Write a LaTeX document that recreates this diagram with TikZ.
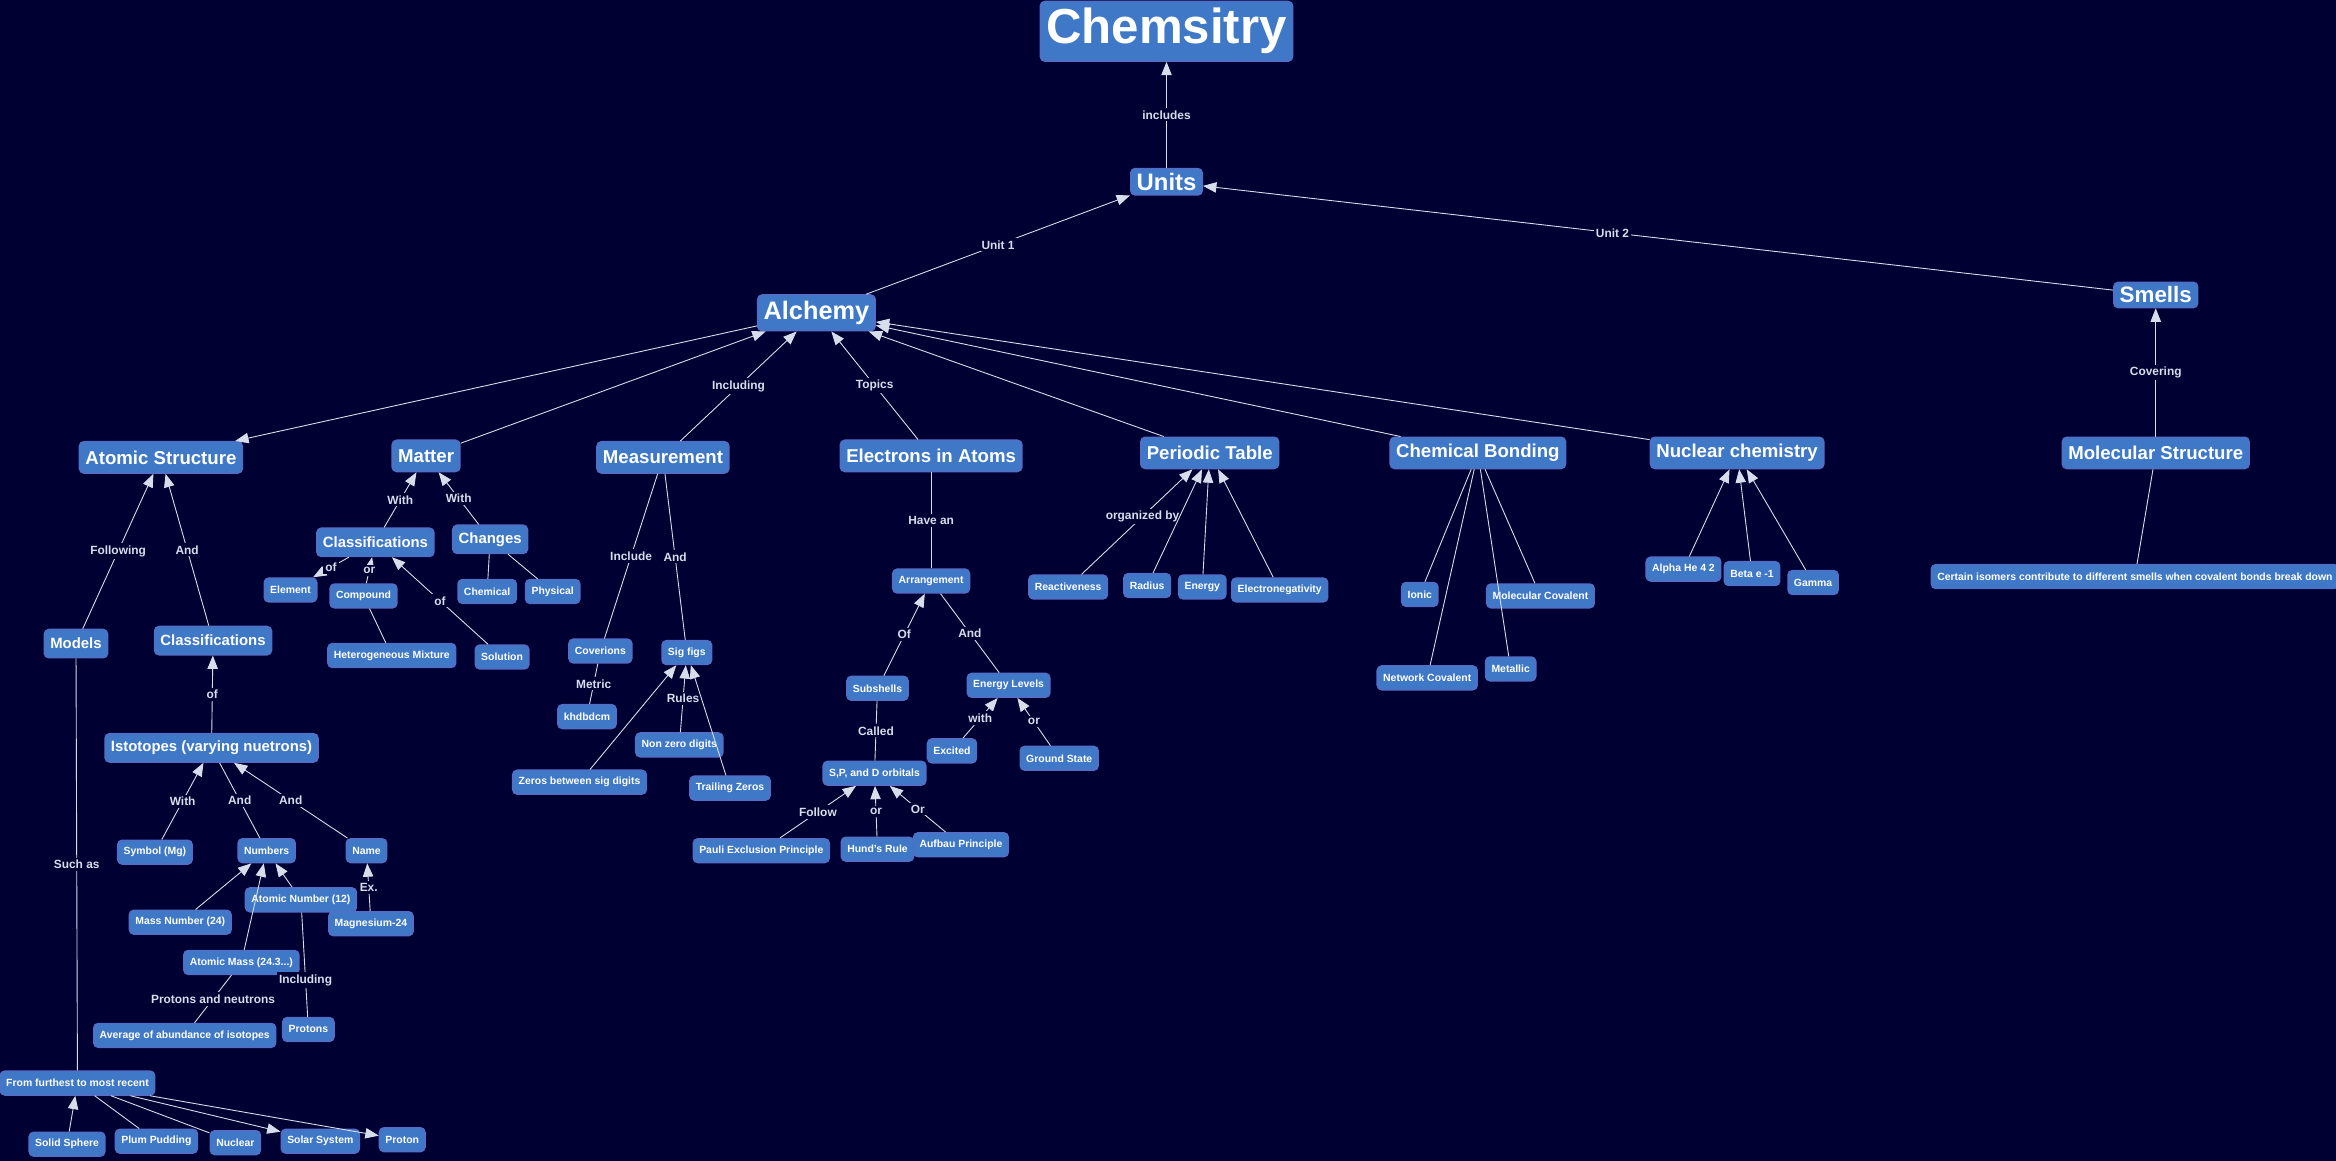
\documentclass[tikz,border=0pt]{standalone}
\usepackage{fontspec}
\setmainfont{Liberation Sans}
\usetikzlibrary{arrows.meta}
\definecolor{bg}{RGB}{0,0,51}
\definecolor{box}{RGB}{62,120,198}
\definecolor{edge}{RGB}{84,110,200}
\definecolor{ln}{RGB}{215,222,235}
\begin{document}
\begin{tikzpicture}[x=1pt,y=-1pt,
 base/.style={draw=edge,line width=1pt,fill=box,rounded corners=3pt,text=white,font=\bfseries,inner xsep=4pt,inner ysep=3pt},
 s/.style={base,font=\bfseries\fontsize{7}{8}\selectfont,minimum height=16pt},
 m/.style={base,font=\bfseries\fontsize{10}{11}\selectfont,minimum height=19pt},
 L/.style={base,font=\bfseries\fontsize{12.5}{14}\selectfont,minimum height=21pt},
 B/.style={base,font=\bfseries\fontsize{17}{19}\selectfont,minimum height=24pt},
 lbl/.style={fill=bg,text=ln,font=\bfseries\fontsize{8}{9}\selectfont,inner sep=1.5pt},
 a/.style={draw=ln,line width=0.6pt,-{Triangle[width=7pt,length=9pt,fill=ln]}},
 l/.style={draw=ln,line width=0.6pt}]
\fill[bg] (0,0) rectangle (1568,779);
\useasboundingbox (0,0) rectangle (1568,779);
\node[base,font=\bfseries\fontsize{33}{36}\selectfont,minimum height=40pt,minimum width=168pt] (chem) at (783,21) {Chemsitry};
\node[base,font=\bfseries\fontsize{16}{18}\selectfont] (units) at (783,122) {Units};
\node[B] (alch) at (548,210) {Alchemy};
\node[base,font=\bfseries\fontsize{15}{17}\selectfont] (smells) at (1447,198) {Smells};
\node[L] (atom) at (108,307) {Atomic Structure};
\node[L] (matter) at (286,306) {Matter};
\node[L] (meas) at (445,307) {Measurement};
\node[L] (elec) at (625,306) {Electrons in Atoms};
\node[L] (pt) at (812,304) {Periodic Table};
\node[L] (cb) at (992,304) {Chemical Bonding};
\node[L] (nuc) at (1166,304) {Nuclear chemistry};
\node[L] (mol) at (1447,304) {Molecular Structure};
\node[m] (models) at (51,432) {Models};
\node[m] (cls1) at (143,430) {Classifications};
\node[m] (iso) at (142,502) {Istotopes (varying nuetrons)};
\node[m] (cls2) at (252,364) {Classifications};
\node[m] (chg) at (329,362) {Changes};
\node[s] (elem) at (195,396) {Element};
\node[s] (comp) at (244,400) {Compound};
\node[s] (chemc) at (327,397) {Chemical};
\node[s] (phys) at (371,397) {Physical};
\node[s] (het) at (263,440) {Heterogeneous Mixture};
\node[s] (sol) at (337,441) {Solution};
\node[s] (cov) at (403,437) {Coverions};
\node[s] (sig) at (461,438) {Sig figs};
\node[s] (khd) at (394,481) {khdbdcm};
\node[s] (nz) at (456,500) {Non zero digits};
\node[s] (zb) at (389,525) {Zeros between sig digits};
\node[s] (tz) at (490,529) {Trailing Zeros};
\node[s] (arr) at (625,390) {Arrangement};
\node[s] (sub) at (589,462) {Subshells};
\node[s] (el) at (677,460) {Energy Levels};
\node[s] (exc) at (639,504) {Excited};
\node[s] (gs) at (711,509) {Ground State};
\node[s] (spd) at (587,519) {S,P, and D orbitals};
\node[s] (pauli) at (511,571) {Pauli Exclusion Principle};
\node[s] (hund) at (589,570) {Hund's Rule};
\node[s] (auf) at (645,567) {Aufbau Principle};
\node[s] (rea) at (717,394) {Reactiveness};
\node[s] (rad) at (770,393) {Radius};
\node[s] (ene) at (807,394) {Energy};
\node[s] (eneg) at (859,396) {Electronegativity};
\node[s] (ion) at (953,399) {Ionic};
\node[s] (mc) at (1034,400) {Molecular Covalent};
\node[s] (nc) at (958,455) {Network Covalent};
\node[s] (met) at (1014,449) {Metallic};
\node[s] (alpha) at (1130,382) {Alpha He 4 2};
\node[s] (beta) at (1176,385) {Beta e -1};
\node[s] (gam) at (1217,391) {Gamma};
\node[s] (iso2) at (1433,387) {Certain isomers contribute to different smells when covalent bonds break down};
\node[s] (sym) at (104,572) {Symbol (Mg)};
\node[s] (num) at (179,571) {Numbers};
\node[s] (name) at (246,571) {Name};
\node[s] (mass) at (121,619) {Mass Number (24)};
\node[s] (an) at (202,604) {Atomic Number (12)};
\node[s] (mg) at (249,620) {Magnesium-24};
\node[s] (am) at (162,646) {Atomic Mass (24.3...)};
\node[s] (avg) at (124,695) {Average of abundance of isotopes};
\node[s] (prot) at (207,691) {Protons};
\node[s] (from) at (52,727) {From furthest to most recent};
\node[s] (ss) at (45,768) {Solid Sphere};
\node[s] (pp) at (105,766) {Plum Pudding};
\node[s] (nucl) at (158,767) {Nuclear};
\node[s] (solar) at (215,766) {Solar System};
\node[s] (proton) at (270,765) {Proton};
% edges
\draw[a] (units) -- node[lbl]{includes} (chem);
\draw[a] (alch) -- node[lbl]{Unit 1} (units);
\draw[a] (smells) -- node[lbl,pos=0.55]{Unit 2} (units);
\draw[a] (alch) -- (atom);
\draw[a] (matter) -- (alch);
\draw[a] (meas) -- node[lbl]{Including} (alch);
\draw[a] (elec) -- node[lbl]{Topics} (alch);
\draw[a] (pt) -- (alch);
\draw[a] (cb) -- (alch);
\draw[a] (nuc) -- (alch);
\draw[a] (mol) -- node[lbl]{Covering} (smells);
\draw[a] (models) -- node[lbl]{Following} (atom);
\draw[a] (cls1) -- node[lbl]{And} (atom);
\draw[a] (iso) -- node[lbl]{of} (cls1);
\draw[l] (models) -- node[lbl]{Such as} (from);
\draw[a] (sym) -- node[lbl]{With} (iso);
\draw[l] (iso) -- node[lbl]{And} (num);
\draw[a] (name) -- node[lbl]{And} (iso);
\draw[a] (mass) -- (num);
\draw[a] (an) -- (num);
\draw[a] (am) -- (num);
\draw[a] (mg) -- node[lbl]{Ex.} (name);
\draw[l] (am) -- node[lbl]{Protons and neutrons} (avg);
\draw[l] (an) -- node[lbl,pos=0.65]{Including} (prot);
\draw[a] (ss) -- (from);
\draw[l] (pp) -- (from);
\draw[l] (nucl) -- (from);
\draw[a] (from) -- (solar);
\draw[a] (from) -- (proton);
\draw[a] (cls2) -- node[lbl]{With} (matter);
\draw[a] (chg) -- node[lbl]{With} (matter);
\draw[a] (cls2) -- node[lbl]{of} (elem);
\draw[a] (comp) -- node[lbl]{or} (cls2);
\draw[l] (het) -- (comp);
\draw[a] (sol) -- node[lbl]{of} (cls2);
\draw[l] (chg) -- (chemc);
\draw[l] (chg) -- (phys);
\draw[l] (meas) -- node[lbl]{Include} (cov);
\draw[l] (meas) -- node[lbl]{And} (sig);
\draw[l] (cov) -- node[lbl]{Metric} (khd);
\draw[a] (zb) -- (sig);
\draw[a] (nz) -- node[lbl]{Rules} (sig);
\draw[a] (tz) -- (sig);
\draw[l] (elec) -- node[lbl]{Have an} (arr);
\draw[a] (sub) -- node[lbl]{Of} (arr);
\draw[l] (arr) -- node[lbl]{And} (el);
\draw[l] (sub) -- node[lbl]{Called} (spd);
\draw[a] (exc) -- node[lbl]{with} (el);
\draw[a] (gs) -- node[lbl]{or} (el);
\draw[a] (pauli) -- node[lbl]{Follow} (spd);
\draw[a] (hund) -- node[lbl]{or} (spd);
\draw[a] (auf) -- node[lbl]{Or} (spd);
\draw[a] (rea) -- node[lbl,pos=0.55]{organized by} (pt);
\draw[a] (rad) -- (pt);
\draw[a] (ene) -- (pt);
\draw[a] (eneg) -- (pt);
\draw[l] (cb) -- (ion);
\draw[l] (cb) -- (nc);
\draw[l] (cb) -- (met);
\draw[l] (cb) -- (mc);
\draw[a] (alpha) -- (nuc);
\draw[a] (beta) -- (nuc);
\draw[a] (gam) -- (nuc);
\draw[l] (mol) -- (iso2);
\end{tikzpicture}
\end{document}
